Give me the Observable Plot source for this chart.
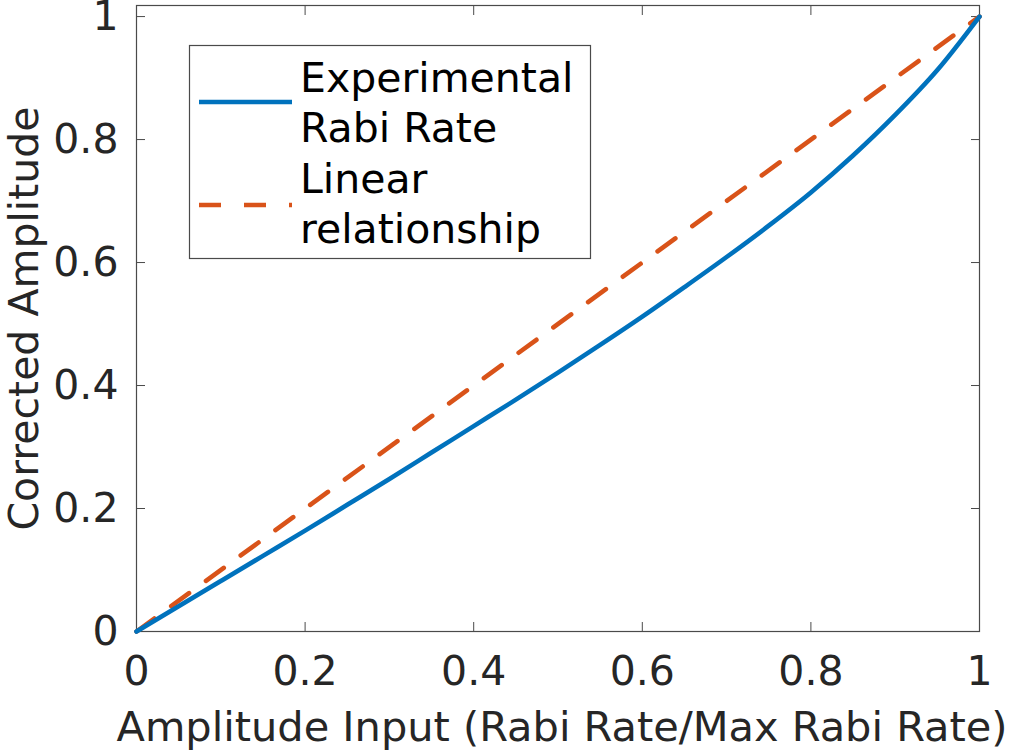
<!DOCTYPE html>
<html>
<head>
<meta charset="utf-8">
<script src="https://cdn.jsdelivr.net/npm/d3@7"></script>
<script src="https://cdn.jsdelivr.net/npm/@observablehq/plot@0.6"></script>
<style>
  html, body { margin: 0; padding: 0; background: #fff; }
  #wrap { position: relative; width: 1016px; height: 751px; font-family: "DejaVu Sans", sans-serif; }
  #wrap > svg { overflow: visible; }
  #legend { position: absolute; left: 189px; top: 45px; }
</style>
</head>
<body>
<div id="wrap"></div>
<script>
// ---- data ----
const amplitudeInput = [0, 0.05, 0.1, 0.15, 0.2, 0.25, 0.3, 0.35, 0.4, 0.45, 0.5, 0.55, 0.6, 0.65, 0.7, 0.75, 0.8, 0.85, 0.9, 0.95, 1.0];
const experimentalRabi = [0, 0.041, 0.082, 0.123, 0.164, 0.206, 0.248, 0.291, 0.334, 0.377, 0.421, 0.466, 0.512, 0.560, 0.609, 0.660, 0.714, 0.774, 0.840, 0.913, 1.0];
const linearX = [0, 1];
const linearY = [0, 1];
const xTicks = [0, 0.2, 0.4, 0.6, 0.8, 1];
const yTicks = [0, 0.2, 0.4, 0.6, 0.8, 1];
const seriesNames = ["Experimental\nRabi Rate", "Linear\nrelationship"];
const xLabel = "Amplitude Input (Rabi Rate/Max Rabi Rate)";
const yLabel = "Corrected Amplitude";

const blue = "#0072BD";
const orange = "#D95319";
const ink = "#262626";

const expData = amplitudeInput.map((x, i) => ({x, y: experimentalRabi[i]}));
const linData = linearX.map((x, i) => ({x, y: linearY[i]}));
const fmt = d => d === 0 ? "0" : d === 1 ? "1" : String(d);

const chart = Plot.plot({
  width: 1016,
  height: 751,
  marginLeft: 136,
  marginRight: 37,
  marginTop: 5,
  marginBottom: 120,
  style: {fontFamily: "DejaVu Sans, sans-serif", fontSize: "41px", color: ink, background: "white", overflow: "visible"},
  x: {domain: [0, 1]},
  y: {domain: [0, 1.018]},
  marks: [
    Plot.frame({stroke: "#4a4a4a", strokeWidth: 1.2}),
    Plot.axisX(xTicks, {anchor: "bottom", tickSize: -9, tickPadding: 33, tickFormat: fmt, stroke: "#4a4a4a", fill: ink, fontSize: 41, label: null}),
    Plot.axisX(xTicks, {anchor: "top", tickSize: -9, tickFormat: () => "", stroke: "#4a4a4a", label: null}),
    Plot.axisY(yTicks, {anchor: "left", tickSize: -9, tickPadding: 27, tickFormat: fmt, stroke: "#4a4a4a", fill: ink, fontSize: 41, label: null}),
    Plot.axisY(yTicks, {anchor: "right", tickSize: -9, tickFormat: () => "", stroke: "#4a4a4a", label: null}),
    Plot.line(linData, {x: "x", y: "y", stroke: orange, strokeWidth: 4.6, strokeDasharray: "22,21"}),
    Plot.line(expData, {x: "x", y: "y", stroke: blue, strokeWidth: 4.6, curve: "monotone-x"}),
    Plot.text([xLabel], {text: d => d, frameAnchor: "bottom", textAnchor: "middle", lineAnchor: "bottom", dy: 109, dx: 4, fontSize: 41.5, fill: ink}),
    Plot.text([yLabel], {text: d => d, frameAnchor: "left", textAnchor: "middle", lineAnchor: "top", rotate: -90, dx: -128, fontSize: 41, fill: ink})
  ]
});
document.getElementById("wrap").appendChild(chart);

// ---- legend (overlay) ----
const legendW = 402, legendH = 214;
const legend = d3.create("svg")
  .attr("id", "legend")
  .attr("width", legendW)
  .attr("height", legendH)
  .style("font-family", "DejaVu Sans, sans-serif");
legend.append("rect")
  .attr("x", 0.5).attr("y", 0.5)
  .attr("width", legendW - 1).attr("height", legendH - 1)
  .attr("fill", "white").attr("stroke", "#4a4a4a").attr("stroke-width", 1.2);
const items = [
  {name: seriesNames[0], color: blue, dash: null, lineY: 57, baselines: [47, 97]},
  {name: seriesNames[1], color: orange, dash: "22,23", lineY: 160, baselines: [148, 198]}
];
items.forEach(it => {
  legend.append("line")
    .attr("x1", 10).attr("x2", 103)
    .attr("y1", it.lineY).attr("y2", it.lineY)
    .attr("stroke", it.color).attr("stroke-width", 4.6)
    .attr("stroke-dasharray", it.dash);
  it.name.split("\n").forEach((t, j) => {
    legend.append("text")
      .attr("x", 111).attr("y", it.baselines[j])
      .attr("font-size", 41).attr("fill", "#000")
      .text(t);
  });
});
document.getElementById("wrap").appendChild(legend.node());
</script>
</body>
</html>
